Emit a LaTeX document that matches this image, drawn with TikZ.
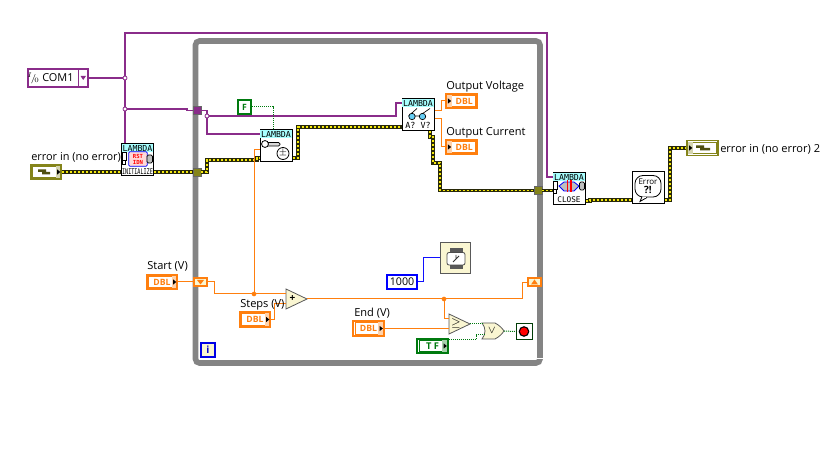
\documentclass[tikz,border=0pt]{standalone}
\usepackage{fontspec}
\setmainfont{Open Sans}
\setmonofont{DejaVu Sans Mono}
\usetikzlibrary{shapes, arrows.meta, positioning}
\definecolor{refpurple}{HTML}{8A2C8A}
\definecolor{dblorange}{HTML}{FF7F0E}
\definecolor{boolgreen}{HTML}{007A0F}
\definecolor{errolive}{HTML}{84841A}
\definecolor{loopgray}{HTML}{848484}
\definecolor{iconcyan}{HTML}{A8FFFF}
\definecolor{primyellow}{HTML}{FAF6D2}
\definecolor{intblue}{HTML}{1010FF}
\tikzstyle{refwire} = [draw=refpurple, line width=1pt]
\tikzstyle{numwire} = [draw=dblorange, line width=0.75pt]
\tikzstyle{boolwire} = [draw=boolgreen, line width=0.75pt, dash pattern=on 0.75pt off 0.75pt]
\tikzstyle{intwire} = [draw=intblue, line width=0.75pt]
\tikzstyle{errwire} = [draw=black!70!errolive, line width=2.3pt, postaction={draw=yellow!90!errolive, line width=1pt, dash pattern=on 1.5pt off 1.5pt}]
\tikzstyle{vi} = [rectangle, draw=black, fill=white, line width=0.75pt, minimum width=24pt, minimum height=24pt, inner sep=0pt]
\tikzstyle{terminal} = [rectangle, draw=dblorange, fill=white, line width=1.5pt, minimum width=23pt, minimum height=11pt, inner sep=0pt,
  text=dblorange, font=\fontsize{6.5}{6.5}\selectfont\bfseries]
\tikzstyle{lbl} = [inner sep=0pt, anchor=west, yshift=-1.1pt, font=\fontsize{8.3}{9}\selectfont]
\tikzstyle{junction} = [circle, fill=dblorange, inner sep=0pt, minimum size=3.5pt]
\tikzstyle{refjunction} = [circle, draw=refpurple, fill=white, line width=0.6pt, inner sep=0pt, minimum size=3pt]
\tikzstyle{tunnel} = [rectangle, draw=black!60, fill=errolive, line width=0.6pt, inner sep=0pt, minimum size=6pt]
\tikzstyle{shiftreg} = [rectangle, draw=dblorange, fill=primyellow, line width=1.5pt, inner sep=0pt, minimum width=9.5pt, minimum height=6.5pt]
\tikzstyle{prim} = [draw=black!65, fill=primyellow, line width=0.6pt]
\tikzstyle{icontext} = [inner sep=0pt, font=\ttfamily\fontsize{5.8}{5.8}\selectfont]
% header strip of the instrument driver icons
\newcommand{\lambdahead}[1]{
  \fill[iconcyan] ([shift={(0.5pt,-0.5pt)}]#1.north west) rectangle ([shift={(-0.5pt,-6.5pt)}]#1.north east);
  \node[icontext, font=\ttfamily\fontsize{6.2}{6.2}\selectfont] at ([yshift=-3.6pt]#1.north) {LAMBDA};
}
% inner frame, tint and arrow of a front panel terminal
\newcommand{\ctlmark}[2]{
  \draw[#2, line width=0.5pt] ([shift={(2pt,-2pt)}]#1.north west) rectangle ([shift={(-2pt,2pt)}]#1.south east);
  \fill[#2!35] ([shift={(-5pt,-1.5pt)}]#1.north east) rectangle ([shift={(-1.5pt,1.5pt)}]#1.south east);
  \fill[black] ([shift={(-4pt,2pt)}]#1.east) -- ([shift={(-1.5pt,0pt)}]#1.east) -- ([shift={(-4pt,-2pt)}]#1.east) -- cycle;
}
\newcommand{\indmark}[2]{
  \draw[#2, line width=0.5pt] ([shift={(2pt,-2pt)}]#1.north west) rectangle ([shift={(-2pt,2pt)}]#1.south east);
  \fill[#2!35] ([shift={(1.5pt,-1.5pt)}]#1.north west) rectangle ([shift={(5pt,1.5pt)}]#1.south west);
  \fill[black] ([shift={(2pt,2pt)}]#1.west) -- ([shift={(4.5pt,0pt)}]#1.west) -- ([shift={(2pt,-2pt)}]#1.west) -- cycle;
}
\begin{document}
\begin{tikzpicture}[x=0.75pt, y=-0.75pt]
    \useasboundingbox (0,0) rectangle (822,452);
    \fill[white] (0,0) rectangle (822,452);

    % while loop
    \draw[draw=loopgray, line width=4.2pt, rounded corners=3pt] (195.5,41) rectangle (540,363);
    \draw[white, line width=0.75pt] (537,358.5) -- (543,358.5);
    \node[rectangle, draw=blue!90!black, fill=primyellow, line width=1.5pt, minimum size=10.5pt, inner sep=0pt, text=blue!80!black, font=\bfseries\fontsize{7.5}{7.5}\selectfont] (iter) at (208,350) {i};

    % nodes
    \node[rectangle, draw=refpurple, fill=white, line width=1.5pt, minimum width=45pt, minimum height=13pt, inner sep=0pt] (com) at (58,78) {};
    \node[inner sep=0pt, anchor=west, font=\fontsize{8.2}{8.2}\selectfont] (comtxt) at (42,78) {COM1};
    \node[inner sep=0pt, font=\fontsize{7}{7}\selectfont] (iotxt) at (33.5,78) {$^{I}\!/\!_{0}$};
    \draw[refpurple, line width=0.75pt] (78,69) -- (78,87);
    \fill[refpurple] (80.5,76) -- (86,76) -- (83.2,80) -- cycle;

    \node[terminal, draw=errolive] (errin) at (46,172) {};
    \ctlmark{errin}{errolive}
    \fill[errolive!60!black] (38,169.5) rectangle (46,172) (42,172) rectangle (50,174.5);

    \node[vi] (init) at (137.5,160) {};
    \lambdahead{init}
    \node[icontext] (inittxt) at (137.5,171.5) {\scalebox{0.66}[1]{INITIALIZE}};
    \node[rectangle, draw=blue, fill=red!15, line width=0.6pt, rounded corners=1pt, minimum width=14pt, minimum height=11pt, inner sep=0pt, text=red, font=\ttfamily\bfseries\fontsize{4.2}{4.4}\selectfont, align=center] (rst) at (138,159) {RST\\IDN};
    \draw[black, line width=0.6pt, fill=white] (122.5,152) rectangle (126,160) (122.5,160) rectangle (125,164);
    \draw[black, line width=0.6pt, fill=black!25, rounded corners=1pt] (147,155) rectangle (152.5,163);
    \node[lbl, font=\fontsize{8.2}{9}\selectfont] (errlbl) at (31,156) {error in (no error)};

    \node[vi] (config) at (276,146) {};
    \lambdahead{config}
    \draw[black, line width=0.6pt, fill=black!15, rounded corners=1pt] (265,142.5) rectangle (280,146);
    \draw[black, line width=0.6pt, fill=white] (265,144) circle (2.6pt);
    \draw[black, line width=0.6pt, fill=white] (283,153.5) circle (4.5pt);
    \node[inner sep=0pt, font=\fontsize{7}{7}\selectfont] (pm) at (283,153.5) {$\pm$};

    \node[vi] (read) at (418,115) {};
    \lambdahead{read}
    \draw[black, line width=0.5pt] (408.5,116) -- (417,108.5) (419,116) -- (430,108.5) (414,116) -- (420,116);
    \draw[black, line width=0.5pt, fill=cyan!60] (412,116.5) circle (2.4pt) (422.5,116.5) circle (2.4pt);
    \node[icontext, font=\ttfamily\fontsize{6.3}{6.3}\selectfont] (avtxt) at (418,125.5) {A? V?};

    \node[vi] (close) at (569,189) {};
    \lambdahead{close}
    \node[icontext] (closetxt) at (569,200) {CLOSE};
    \draw[blue, line width=0.6pt, fill=black!25] (559,186) -- (564,182) -- (574,182) -- (579,186) -- (574,191) -- (564,191) -- cycle;
    \draw[red, line width=1.1pt] (567.5,180.5) -- (567.5,192) (571,180.5) -- (571,192);
    \draw[black, line width=0.6pt, fill=white] (553.5,181) rectangle (557,189) (553.5,189) rectangle (556,193);
    \draw[black, line width=0.6pt, fill=black!25, rounded corners=1pt] (579.5,182) rectangle (584.5,190);

    \node[vi] (errdlg) at (648,187.5) {};
    \draw[black, line width=0.6pt, rounded corners=6pt] (635,175.5) rectangle (661,197);
    \draw[black, fill=white, line width=0.6pt] (642,196.6) -- (640,201.5) -- (647,197.5);
    \fill[white] (642.6,196.8) rectangle (646.4,197.6);
    \node[inner sep=0pt, font=\fontsize{6}{6}\selectfont] (errtxt) at (648,181.5) {Error};
    \node[inner sep=0pt, font=\bfseries\fontsize{7.5}{7.5}\selectfont] (errtxtb) at (648,190) {?!};

    \node[rectangle, draw=black!65, fill=primyellow, line width=0.75pt, minimum size=23pt, inner sep=0pt] (timer) at (455.5,258) {};
    \fill[black!65] (449.5,248) rectangle (462.5,269.5);
    \draw[black!70, line width=0.6pt, fill=white, rounded corners=1.5pt] (447,252.5) rectangle (465,265);
    \draw[black!80, line width=0.6pt] (456,255) -- (456,259) -- (453,262) (456,259) -- (459,256);

    \node[terminal, draw=blue, text=black, font=\fontsize{8}{8}\selectfont] (wait) at (402,282) {1000};
    \node[rectangle, draw=boolgreen, fill=white, line width=1.5pt, minimum size=10pt, inner sep=0pt, text=boolgreen, font=\bfseries\fontsize{6.5}{6.5}\selectfont] (falsec) at (244.5,107) {F};

    \node[terminal] (outv) at (461.5,101) {\hspace{4pt}DBL};
    \indmark{outv}{dblorange}
    \node[lbl] (outvlbl) at (446,85) {Output Voltage};
    \node[terminal] (outc) at (461.5,147) {\hspace{4pt}DBL};
    \indmark{outc}{dblorange}
    \node[lbl] (outclbl) at (446,131) {Output Current};
    \node[terminal] (start) at (162,282) {DBL\hspace{4pt}};
    \ctlmark{start}{dblorange}
    \node[lbl] (startlbl) at (147,265) {Start (V)};
    \node[terminal] (steps) at (255,319.5) {DBL\hspace{4pt}};
    \ctlmark{steps}{dblorange}
    \node[terminal] (endv) at (368.5,328.5) {DBL\hspace{4pt}};
    \ctlmark{endv}{dblorange}
    \node[lbl] (endlbl) at (354,312) {End (V)};

    \node[terminal, draw=boolgreen, text=boolgreen, font=\bfseries\fontsize{7}{7}\selectfont] (tfctl) at (432.5,346) {T F\hspace{3pt}};
    \ctlmark{tfctl}{boolgreen}

    \node[terminal, draw=errolive, line width=1.2pt] (errout) at (702.5,148) {};
    \indmark{errout}{errolive}
    \fill[errolive!60!black] (696,145.5) rectangle (704,148) (700,148) rectangle (710,150.5);
    \node[lbl] (erroutlbl) at (720,148) {error in (no error) 2};

    \node[rectangle, draw=black!50!boolgreen, fill=white, line width=0.6pt, minimum size=12pt, inner sep=0pt] (stopn) at (524,331.5) {};
    \fill[black] (524,331.5) circle (4pt);
    \fill[red] (524,331.5) circle (3pt);

    % tunnels and shift registers
    \node[tunnel, fill=refpurple] (reftun) at (197,110.5) {};
    \node[tunnel] (errtun) at (197,172) {};
    \node[tunnel] (errtunb) at (538,190.5) {};
    \node[shiftreg] (srleft) at (200.5,282) {};
    \fill[dblorange] (197,280) -- (204,280) -- (200.5,284.5) -- cycle;
    \node[shiftreg] (srright) at (534.5,282) {};
    \fill[dblorange] (531,284.5) -- (538,284.5) -- (534.5,279.5) -- cycle;

    % primitives
    \draw[prim] (286,289) -- (307,299) -- (286,309) -- cycle;
    \node[inner sep=0pt, font=\bfseries\fontsize{7.5}{7.5}\selectfont] (addsym) at (292.5,298.5) {+};
    \draw[prim] (449,314) -- (470,324) -- (449,334) -- cycle;
    \node[inner sep=0pt, font=\fontsize{9}{9}\selectfont] (gesym) at (456,324) {$\geq$};
    \draw[prim] (482,323) -- (495,323) .. controls (499,325) and (502,328) .. (504,331) .. controls (502,334) and (499,337) .. (495,339) -- (482,339) .. controls (486,334) and (486,328) .. (482,323) -- cycle;
    \node[inner sep=0pt, font=\fontsize{8}{8}\selectfont] (orsym) at (492,331) {$\vee$};
    \coordinate (addout) at (307,299);
    \coordinate (geout) at (470,324);
    \coordinate (orout) at (504,331);

    % wires
    \draw[refwire] (com.east) -- (125,78);
    \draw[refwire] (init.north -| 125,0) -- (125,33) -- (547,33) -- (547,177) -- (close.north west |- 547,177);
    \draw[refwire] (125,109) -- (187,109) -- (187,110.5) -- (reftun.west);
    \draw[refwire] (reftun.east) -- (207,110.5) -- (207,134) -- (config.west |- 0,134);
    \draw[refwire] (207,116) -- (396,116) -- (396,103) -- (read.west |- 0,103);
    \node[refjunction] (refj1) at (125,78) {};
    \node[refjunction] (refj2) at (125,109) {};
    \node[refjunction] (refj3) at (207,116) {};

    \draw[errwire] (errin.east) -- (init.west |- errin);
    \draw[errwire] (init.east |- errin) -- (errtun.west);
    \draw[errwire] (errtun.east) -- (207,172) -- (207,160) -- (257,160) -- (257,158) -- (config.west |- 0,158);
    \draw[errwire] (config.east |- 0,158) -- (298,158) -- (298,127) -- (read.west |- 0,127);
    \draw[errwire] (430,131) -- (430,137) -- (433,137) -- (433,163) -- (440,163) -- (440,190.5) -- (errtunb.west);
    \draw[errwire] (close.east |- 0,201) -- (590,201) -- (590,200) -- (errdlg.west |- 0,200);
    \draw[errwire] (errdlg.east |- 0,200) -- (670,200) -- (670,148) -- (errout.west);
    \draw[errwire] (errtunb.east) -- (close.west |- errtunb);

    \draw[numwire] (start.east) -- (srleft.west);
    \draw[numwire] (srleft.east) -- (214,282) -- (214,294) -- (286,294);
    \draw[numwire] (254,294) -- (254,150) -- (config.west |- 0,150);
    \node[junction] (numj1) at (254,294) {};
    \draw[numwire] (steps.east) -- (274,319.5) -- (274,304) -- (286,304);
    \draw[numwire] (addout) -- (522,299) -- (522,283) -- (srright.west |- 0,283);
    \draw[numwire] (444,299) -- (444,319) -- (449,319);
    \node[junction] (numj2) at (444,299) {};
    \draw[numwire] (endv.east) -- (449,328.5);
    \draw[numwire] (read.east |- 0,111) -- (441,111) -- (441,101) -- (outv.west);
    \draw[numwire] (read.east |- 0,119) -- (441,119) -- (441,147) -- (outc.west);
    \draw[intwire] (wait.east) -- (423,282) -- (423,258) -- (timer.west);

    \draw[boolwire] (falsec.east) -- (273,107) -- (config.north -| 273,0);
    \draw[boolwire] (geout) -- (483,324);
    \draw[boolwire] (tfctl.east |- 0,340) -- (476,340) -- (476,335) -- (484,335);
    \draw[boolwire] (orout) -- (stopn.west);

    % label drawn over the wire
    \node[lbl] (stepslbl) at (240,303) {Steps (V)};
\end{tikzpicture}
\end{document}
